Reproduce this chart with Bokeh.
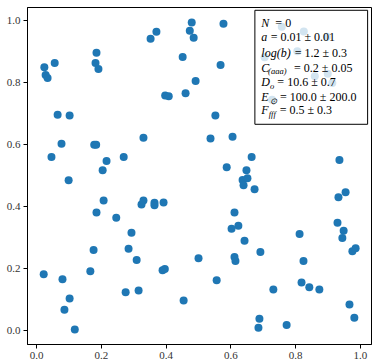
from bokeh.plotting import figure
from bokeh.models import Range1d, FixedTicker, BoxAnnotation, Label, PrintfTickFormatter, ColumnDataSource
from bokeh.embed import file_html
from bokeh.resources import INLINE

# ---- data ----
x_vals = [0.024, 0.028, 0.034, 0.056, 0.065, 0.102, 0.077, 0.046, 0.099, 0.185,
          0.182, 0.191, 0.178, 0.184, 0.216, 0.204, 0.269, 0.330, 0.352, 0.370,
          0.397, 0.408, 0.451, 0.460, 0.479, 0.473, 0.485, 0.577, 0.568, 0.491,
          0.552, 0.537, 0.605, 0.664, 0.587, 0.648, 0.636, 0.651, 0.935, 0.757,
          0.825, 0.896, 0.704, 0.805, 0.859, 0.899, 0.913, 0.727, 0.207, 0.185,
          0.246, 0.324, 0.330, 0.364, 0.364, 0.392, 0.293, 0.284, 0.309, 0.176,
          0.166, 0.022, 0.080, 0.102, 0.086, 0.118, 0.275, 0.315, 0.389, 0.396,
          0.454, 0.500, 0.639, 0.673, 0.932, 0.954, 0.611, 0.623, 0.602, 0.642,
          0.691, 0.611, 0.614, 0.556, 0.731, 0.812, 0.824, 0.818, 0.842, 0.873,
          0.929, 0.948, 0.944, 0.975, 0.985, 0.966, 0.981, 0.688, 0.685, 0.772]
y_vals = [0.849, 0.824, 0.814, 0.862, 0.696, 0.693, 0.602, 0.560, 0.485, 0.895,
          0.862, 0.843, 0.599, 0.599, 0.547, 0.517, 0.560, 0.622, 0.940, 0.963,
          0.758, 0.755, 0.882, 0.765, 0.993, 0.966, 0.944, 0.989, 0.856, 0.804,
          0.693, 0.619, 0.625, 0.560, 0.527, 0.517, 0.486, 0.491, 0.550, 0.979,
          0.964, 0.947, 0.881, 0.900, 0.820, 0.828, 0.798, 0.744, 0.420, 0.381,
          0.364, 0.407, 0.420, 0.412, 0.404, 0.413, 0.316, 0.264, 0.228, 0.260,
          0.192, 0.182, 0.166, 0.104, 0.068, 0.004, 0.124, 0.130, 0.195, 0.199,
          0.098, 0.234, 0.469, 0.456, 0.430, 0.446, 0.381, 0.338, 0.329, 0.290,
          0.254, 0.238, 0.225, 0.163, 0.133, 0.312, 0.225, 0.156, 0.140, 0.133,
          0.348, 0.322, 0.299, 0.256, 0.266, 0.085, 0.042, 0.039, 0.010, 0.019]

tick_values = [0.0, 0.2, 0.4, 0.6, 0.8, 1.0]

stat_names = ["N", "a", "log(b)", "C", "D", "E", "F"]
stat_subs = ["", "", "", "(aaa)", "o", "\u2299", "fff"]
stat_values = ["= 0", "= 0.01 \u00b1 0.01", "= 1.2 \u00b1 0.3", "= 0.2 \u00b1 0.05",
               "= 10.6 \u00b1 0.7", "= 100.0 \u00b1 200.0", "= 0.5 \u00b1 0.3"]

# ---- layout / style ----
SERIF = "Liberation Serif"
p = figure(width=372, height=361, output_backend="svg", toolbar_location=None,
           x_range=Range1d(-0.028, 1.034), y_range=Range1d(-0.044, 1.041),
           min_border_left=27, min_border_right=1, min_border_top=7, min_border_bottom=0)
p.xgrid.visible = False
p.ygrid.visible = False
p.outline_line_color = "black"
p.outline_line_alpha = 1.0
p.outline_line_width = 1
p.background_fill_color = "white"
p.border_fill_color = "white"

for ax in (p.xaxis[0], p.yaxis[0]):
    ax.ticker = FixedTicker(ticks=tick_values, minor_ticks=[])
    ax.formatter = PrintfTickFormatter(format="%.1f")
    ax.major_tick_in = 0
    ax.major_tick_out = 4
    ax.minor_tick_in = 0
    ax.minor_tick_out = 0
    ax.axis_line_color = "black"
    ax.major_tick_line_color = "black"
    ax.major_label_text_font = SERIF
    ax.major_label_text_font_size = "11px"
    ax.major_label_text_color = "#333333"
    ax.major_label_standoff = 3

src = ColumnDataSource(data=dict(x=x_vals, y=y_vals))
p.scatter("x", "y", source=src, size=8, fill_color="#1f77b4", line_color=None)

# stats box (semi-transparent white over the points)
box = BoxAnnotation(left=0.674, right=1.022, bottom=0.665, top=1.032,
                    fill_color="white", fill_alpha=0.8,
                    line_color="black", line_alpha=1.0, line_width=1)
p.add_layout(box)

PX_Y = 307.3            # pixels per y unit in the reference
y_top_px = 327.3        # pixel row of y = 0
x0 = 0.694
row_px = [22.5, 36.5, 52.0, 67.0, 81.5, 96.0, 109.0]
name_w = [0, 0, 0, 6.7, 8.7, 8.3, 7.3]      # where the subscript starts
eq_dx = [14.0, 9.4, 33.4, 32.7, 16.0, 18.7, 18.4]

for i in range(len(stat_names)):
    yv = (y_top_px - row_px[i]) / PX_Y
    p.add_layout(Label(x=x0, y=yv, text=stat_names[i], text_font=SERIF,
                       text_font_style="italic", text_font_size="12px",
                       text_baseline="middle", text_align="left", text_color="black"))
    if stat_subs[i]:
        p.add_layout(Label(x=x0, y=yv, x_offset=name_w[i], y_offset=-3.5,
                           text=stat_subs[i], text_font=SERIF,
                           text_font_style="italic", text_font_size="8.5px",
                           text_baseline="middle", text_align="left", text_color="black"))
    p.add_layout(Label(x=x0, y=yv, x_offset=eq_dx[i], text=stat_values[i],
                       text_font=SERIF, text_font_size="12px",
                       text_baseline="middle", text_align="left", text_color="black"))

open("out.html", "w").write(file_html(p, INLINE))
